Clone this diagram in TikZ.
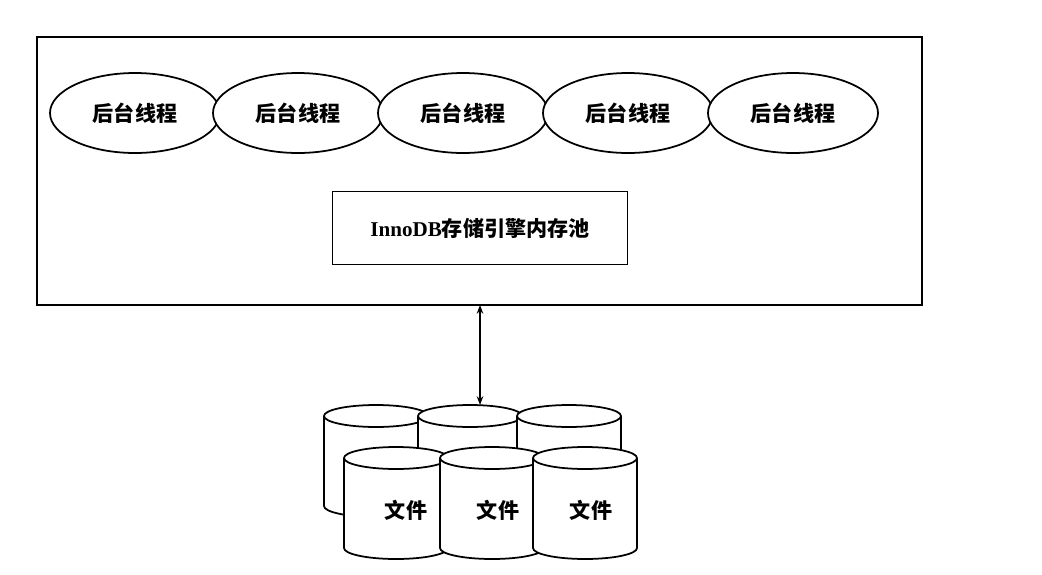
\documentclass[tikz,border=0pt]{standalone}
\usepackage{fontspec}
\setmainfont{Liberation Serif}
\newfontfamily\cjk{Noto Sans CJK SC}
\usetikzlibrary{shapes.geometric, arrows.meta}
\newlength{\pxu}\setlength{\pxu}{0.02cm}
\tikzset{
  thread/.style={ellipse, draw, line width=1pt, fill=white, minimum width=170\pxu, minimum height=80\pxu, font=\cjk\bfseries\large},
  box/.style={draw, line width=1pt},
  file/.style={font=\cjk\bfseries\large},
}
% one cylinder: centre x, top ellipse centre y
\newcommand{\drum}[2]{%
  \filldraw[line width=1pt, fill=white] (#1-52,#2) -- (#1-52,#2+90) arc[start angle=180, end angle=0, x radius=52, y radius=11] -- (#1+52,#2) arc[start angle=0, end angle=-180, x radius=52, y radius=11] -- cycle;
  \draw[line width=1pt] (#1-52,#2) arc[start angle=180, end angle=0, x radius=52, y radius=11];
}
\begin{document}
\begin{tikzpicture}[x=0.02cm, y=-0.02cm]
  \useasboundingbox (0,0) rectangle (1042,575);
  % memory area
  \draw[box] (37,37) rectangle (922,305);
  % background threads
  \foreach \i/\cx in {1/135, 2/298, 3/463, 4/628, 5/793}
    \node[thread] (t\i) at (\cx,113) {后台线程};
  \node[box, minimum width=295\pxu, minimum height=73\pxu, font=\bfseries\large] (pool) at (480,228) {InnoDB{\cjk 存储引擎内存池}};
  % files
  \drum{376}{416}
  \drum{470}{416}
  \drum{569}{416}
  \drum{396}{458}
  \drum{492}{458}
  \drum{585}{458}
  \node[file] (f1) at (406,510) {文件};
  \node[file] (f2) at (498,510) {文件};
  \node[file] (f3) at (591,510) {文件};
  \coordinate (top) at (480,305);
  \coordinate (disk) at (480,405);
  \draw[{Stealth[length=5pt]}-{Stealth[length=5pt]}, thick] (top) -- (disk);
\end{tikzpicture}
\end{document}
